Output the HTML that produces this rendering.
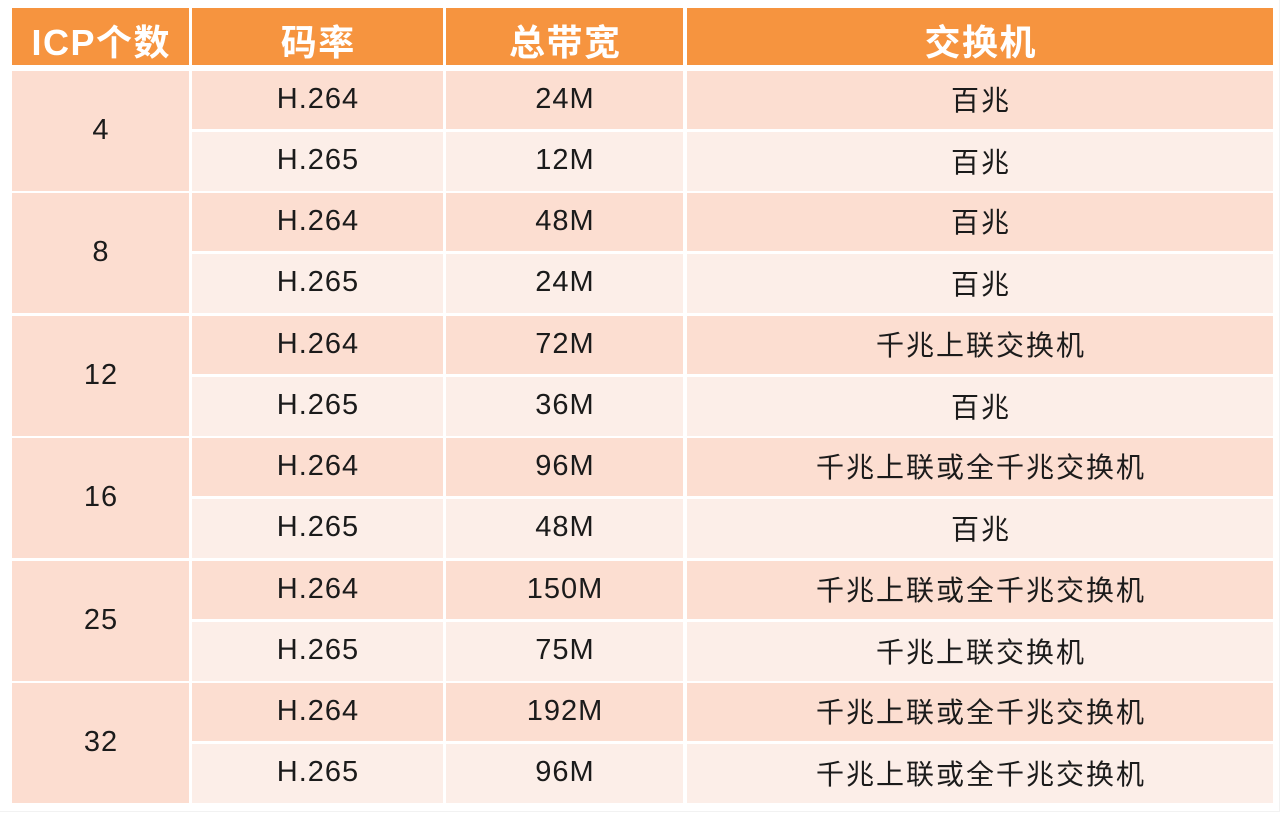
<!DOCTYPE html>
<html>
<head>
<meta charset="utf-8">
<style>
  html,body{margin:0;padding:0;background:#ffffff;}
  body{width:1286px;height:818px;position:relative;overflow:hidden;
       font-family:"Liberation Sans","Noto Sans CJK SC",sans-serif;}
  .c{position:absolute;display:flex;align-items:center;justify-content:center;
     color:#1b1b1b;font-size:29px;letter-spacing:1px;box-sizing:border-box;}
  .c span{position:relative;top:-1px;padding-left:1px;}
  .h{background:#F6943F;color:#ffffff;font-weight:bold;font-size:36px;letter-spacing:1.5px;}
  .h span{top:3px;padding-left:1.5px;}
  .cj{letter-spacing:2px;font-size:28px;}
  .cj span{padding-left:2px;}
  .d{background:#FCDED1;}
  .l{background:#FCEEE8;}
  .g{background:#FCDDD0;}
  .frame-r{position:absolute;left:1279px;top:0;width:1px;height:812px;background:#f2f2f2;}
  .frame-b{position:absolute;left:0;top:811px;width:1280px;height:1px;background:#f2f2f2;}
</style>
</head>
<body>
<div class="frame-r"></div>
<div class="frame-b"></div>

<!-- header -->
<div class="c h" style="left:12px;top:8px;width:177px;height:57px;"><span>ICP个数</span></div>
<div class="c h" style="left:192px;top:8px;width:251px;height:57px;"><span>码率</span></div>
<div class="c h" style="left:446px;top:8px;width:237px;height:57px;"><span>总带宽</span></div>
<div class="c h" style="left:687px;top:8px;width:586px;height:57px;"><span>交换机</span></div>

<!-- group 4 : T=71 -->
<div class="c g" style="left:12px;top:71px;width:177px;height:120px;"><span>4</span></div>
<div class="c d" style="left:192px;top:71px;width:251px;height:58px;"><span>H.264</span></div>
<div class="c d" style="left:446px;top:71px;width:237px;height:58px;"><span>24M</span></div>
<div class="c d cj" style="left:687px;top:71px;width:586px;height:58px;"><span>百兆</span></div>
<div class="c l" style="left:192px;top:132px;width:251px;height:59px;"><span>H.265</span></div>
<div class="c l" style="left:446px;top:132px;width:237px;height:59px;"><span>12M</span></div>
<div class="c l cj" style="left:687px;top:132px;width:586px;height:59px;"><span>百兆</span></div>

<!-- group 8 : T=193 -->
<div class="c g" style="left:12px;top:193px;width:177px;height:120px;"><span>8</span></div>
<div class="c d" style="left:192px;top:193px;width:251px;height:58px;"><span>H.264</span></div>
<div class="c d" style="left:446px;top:193px;width:237px;height:58px;"><span>48M</span></div>
<div class="c d cj" style="left:687px;top:193px;width:586px;height:58px;"><span>百兆</span></div>
<div class="c l" style="left:192px;top:254px;width:251px;height:59px;"><span>H.265</span></div>
<div class="c l" style="left:446px;top:254px;width:237px;height:59px;"><span>24M</span></div>
<div class="c l cj" style="left:687px;top:254px;width:586px;height:59px;"><span>百兆</span></div>

<!-- group 12 : T=316 -->
<div class="c g" style="left:12px;top:316px;width:177px;height:120px;"><span>12</span></div>
<div class="c d" style="left:192px;top:316px;width:251px;height:58px;"><span>H.264</span></div>
<div class="c d" style="left:446px;top:316px;width:237px;height:58px;"><span>72M</span></div>
<div class="c d cj" style="left:687px;top:316px;width:586px;height:58px;"><span>千兆上联交换机</span></div>
<div class="c l" style="left:192px;top:377px;width:251px;height:59px;"><span>H.265</span></div>
<div class="c l" style="left:446px;top:377px;width:237px;height:59px;"><span>36M</span></div>
<div class="c l cj" style="left:687px;top:377px;width:586px;height:59px;"><span>百兆</span></div>

<!-- group 16 : T=438 -->
<div class="c g" style="left:12px;top:438px;width:177px;height:120px;"><span>16</span></div>
<div class="c d" style="left:192px;top:438px;width:251px;height:58px;"><span>H.264</span></div>
<div class="c d" style="left:446px;top:438px;width:237px;height:58px;"><span>96M</span></div>
<div class="c d cj" style="left:687px;top:438px;width:586px;height:58px;"><span>千兆上联或全千兆交换机</span></div>
<div class="c l" style="left:192px;top:499px;width:251px;height:59px;"><span>H.265</span></div>
<div class="c l" style="left:446px;top:499px;width:237px;height:59px;"><span>48M</span></div>
<div class="c l cj" style="left:687px;top:499px;width:586px;height:59px;"><span>百兆</span></div>

<!-- group 25 : T=561 -->
<div class="c g" style="left:12px;top:561px;width:177px;height:120px;"><span>25</span></div>
<div class="c d" style="left:192px;top:561px;width:251px;height:58px;"><span>H.264</span></div>
<div class="c d" style="left:446px;top:561px;width:237px;height:58px;"><span>150M</span></div>
<div class="c d cj" style="left:687px;top:561px;width:586px;height:58px;"><span>千兆上联或全千兆交换机</span></div>
<div class="c l" style="left:192px;top:622px;width:251px;height:59px;"><span>H.265</span></div>
<div class="c l" style="left:446px;top:622px;width:237px;height:59px;"><span>75M</span></div>
<div class="c l cj" style="left:687px;top:622px;width:586px;height:59px;"><span>千兆上联交换机</span></div>

<!-- group 32 : T=683 -->
<div class="c g" style="left:12px;top:683px;width:177px;height:120px;"><span>32</span></div>
<div class="c d" style="left:192px;top:683px;width:251px;height:58px;"><span>H.264</span></div>
<div class="c d" style="left:446px;top:683px;width:237px;height:58px;"><span>192M</span></div>
<div class="c d cj" style="left:687px;top:683px;width:586px;height:58px;"><span>千兆上联或全千兆交换机</span></div>
<div class="c l" style="left:192px;top:744px;width:251px;height:59px;"><span>H.265</span></div>
<div class="c l" style="left:446px;top:744px;width:237px;height:59px;"><span>96M</span></div>
<div class="c l cj" style="left:687px;top:744px;width:586px;height:59px;"><span>千兆上联或全千兆交换机</span></div>

</body>
</html>
